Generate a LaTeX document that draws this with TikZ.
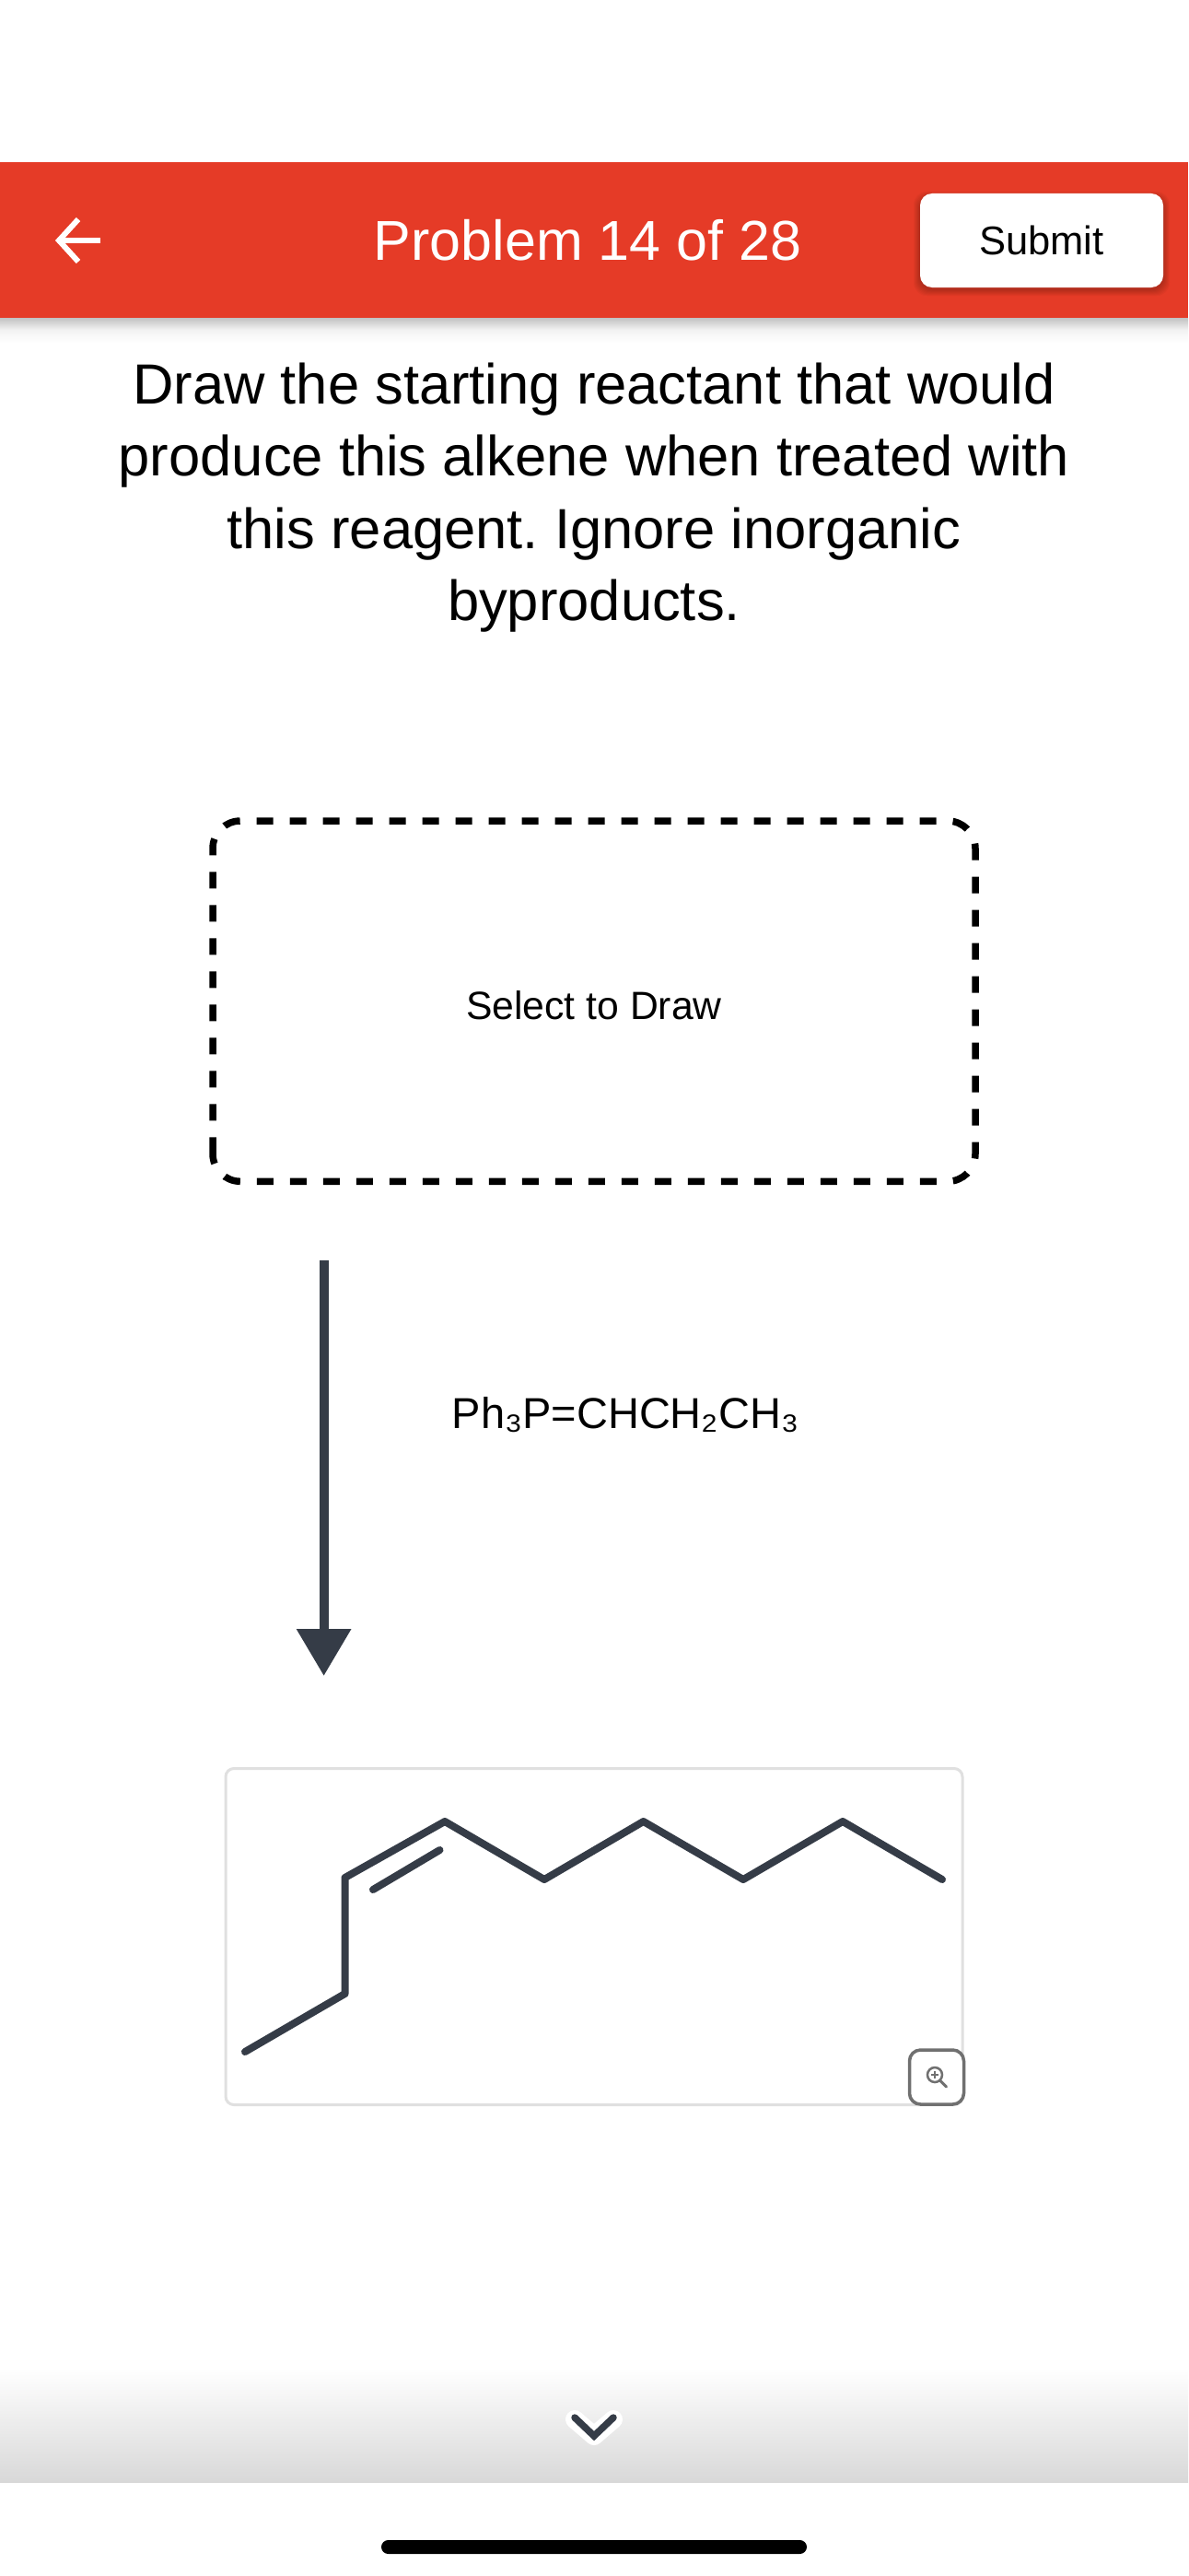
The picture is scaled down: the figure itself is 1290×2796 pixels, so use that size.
\documentclass[tikz,border=0pt]{standalone}
\usepackage{fontspec}
\usepackage{xcolor}
\usetikzlibrary{arrows.meta}
\setmainfont{Liberation Sans}
\definecolor{barred}{RGB}{229, 59, 39}
\definecolor{bonddark}{RGB}{53, 60, 71}
\definecolor{panelgray}{RGB}{224, 224, 224}
\definecolor{zoomgray}{RGB}{112, 112, 112}
\definecolor{fadegray}{RGB}{216, 216, 216}
\tikzset{
    titletext/.style={text=white, inner sep=0pt, font=\fontsize{61}{70}\selectfont},
    submitbtn/.style={fill=white, rounded corners=13pt, minimum width=264pt, minimum height=102pt, inner sep=0pt, font=\fontsize{43.5}{50}\selectfont},
    prompttext/.style={align=center, inner sep=0pt, font=\fontsize{61.5}{78.3}\selectfont},
    drawbox/.style={draw=black, line width=7.5pt, rounded corners=30pt, dash pattern=on 18pt off 18pt},
    selecttext/.style={inner sep=0pt, anchor=base, font=\fontsize{42.7}{50}\selectfont},
    reagenttext/.style={inner sep=0pt, font=\fontsize{47}{54}\selectfont},
    bond/.style={draw=bonddark, line width=8pt, line cap=round, line join=round},
    zoombtn/.style={draw=zoomgray, fill=white, line width=3.5pt, rounded corners=12pt, minimum width=59pt, minimum height=59pt, inner sep=0pt}
}

\begin{document}
\frenchspacing
\begin{tikzpicture}[x=1pt, y=-1pt]
    \useasboundingbox (0,0) rectangle (1290,2796);
    \fill[white] (0,0) rectangle (1290,2796);
    \shade[top color=black!24, bottom color=black!5] (0,345) rectangle (1290,358);
    \shade[top color=black!5, bottom color=white] (0,358) rectangle (1290,372);
    \fill[barred] (0,176.5) rectangle (1290,345);
    \draw[white, line width=6pt, line join=miter] (109,261) -- (64,261);
    \draw[white, line width=6pt] (85,238) -- (64,261) -- (85,284);
    \node[titletext] (title) at (638,261) {Problem 14 of 28};
    \foreach \s in {1,...,7} {
        \fill[black, opacity=0.03, rounded corners=14pt] (999-\s,210-\s+5) rectangle (1263+\s,312+\s+2);
    }
    \node[submitbtn] (submit) at (1131,261) {Submit};
    \node[prompttext] (prompt) at (645,540) {Draw the starting reactant that would\\produce this alkene when treated with\\this reagent. Ignore inorganic\\byproducts.};
    \draw[drawbox] (231,1282.3) rectangle (1059,891);
    \node[selecttext] (selectlabel) at (645,1106) {Select to Draw};
    \coordinate (arrowtop) at (351.6,1368);
    \coordinate (arrowtip) at (351.6,1819);
    \draw[draw=bonddark, line width=10pt, -{Triangle[width=57pt,length=51pt]}] (arrowtop) -- (arrowtip);
    \node[reagenttext] (reagent) at (679,1536) {Ph₃P=CHCH₂CH₃};
    \node[draw=panelgray, line width=3pt, rounded corners=9pt, minimum width=800pt, minimum height=365pt, inner sep=0pt] (panel) at (645,2102) {};
    \coordinate (c1) at (266,2227);
    \coordinate (c2) at (374.5,2164);
    \coordinate (c3) at (374.5,2038);
    \coordinate (c4) at (483,1977);
    \coordinate (c5) at (591,2040);
    \coordinate (c6) at (698.6,1977);
    \coordinate (c7) at (807,2040);
    \coordinate (c8) at (915,1977);
    \coordinate (c9) at (1023,2040);
    \coordinate (d1) at (405,2051);
    \coordinate (d2) at (477.5,2008);
    \draw[bond] (c1) -- (c2) -- (c3) -- (c4) -- (c5) -- (c6) -- (c7) -- (c8) -- (c9);
    \draw[bond] (d1) -- (d2);
    \node[zoombtn] (zoom) at (1017,2254.5) {};
    \draw[zoomgray, line width=2.5pt] (1015,2252) circle (8pt);
    \draw[zoomgray, line width=2pt] (1011,2252) -- (1019,2252);
    \draw[zoomgray, line width=2pt] (1015,2248) -- (1015,2256);
    \draw[zoomgray, line width=3pt, line cap=round] (1021,2258.5) -- (1027.5,2265);
    \shade[top color=white, bottom color=fadegray] (0,2570) rectangle (1290,2694);
    \draw[white, line width=20pt, line cap=round, line join=round] (624,2626) -- (645,2644) -- (666,2626);
    \draw[bonddark, line width=7.5pt, line cap=round, line join=miter] (624,2624) -- (645,2644) -- (666,2624);
    \fill[black, rounded corners=7.5pt] (414,2757) rectangle (876,2772);
\end{tikzpicture}
\end{document}
